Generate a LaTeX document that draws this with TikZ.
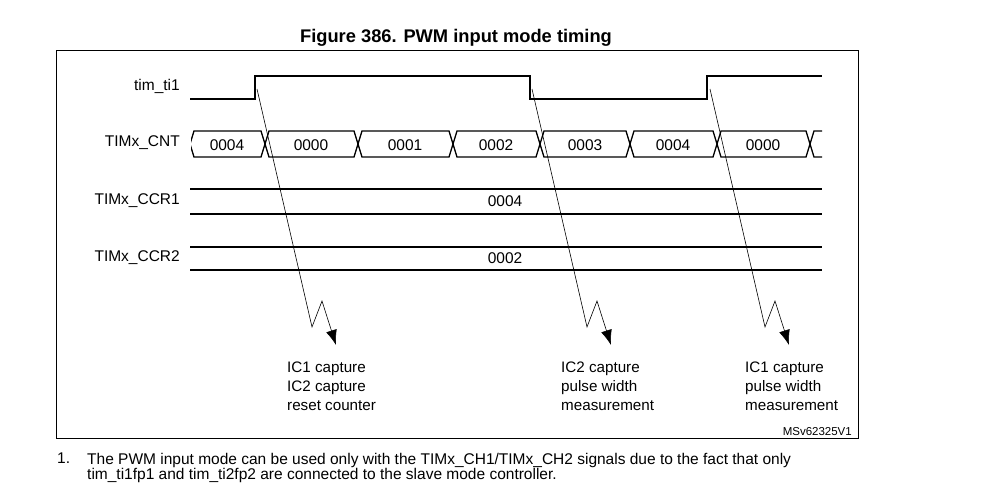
\documentclass[tikz,border=0pt]{standalone}
\usepackage{fontspec}
\usetikzlibrary{arrows.meta}
\setmainfont{Liberation Sans}
\begin{document}
\begin{tikzpicture}[x=1pt,y=-1pt,
  sig/.style={line width=1.3pt},
  lbl/.style={anchor=east,font=\fontsize{15.5}{18}\selectfont,inner sep=0},
  val/.style={font=\fontsize{15.5}{18}\selectfont,inner sep=0},
  note/.style={align=left,anchor=north west,font=\fontsize{15.2}{19}\selectfont,inner sep=0},
  evt/.style={line width=0.6pt},
  tip/.style={-{Latex[length=15pt,width=11pt]}}]
\useasboundingbox (0,0) rectangle (985,501);
\node[font=\bfseries\fontsize{18.3}{20}\selectfont] (title) at (456,38) {Figure 386. PWM input mode timing};
\draw[line width=0.6pt] (56,50) rectangle (858,438);
% labels
\node[lbl] (l1) at (180,86) {tim\_ti1};
\node[lbl] (l2) at (180,143) {TIMx\_CNT};
\node[lbl] (l3) at (180,201) {TIMx\_CCR1};
\node[lbl] (l4) at (180,258) {TIMx\_CCR2};
% tim_ti1
\draw[sig] (190,99) -- (255,99) -- (255,76) -- (530,76) -- (530,99) -- (707,99) -- (707,76) -- (822,76);
% CNT bus
\foreach \a/\b in {190/265,265/358,358/453,453/540,540/630,630/717,717/810}{
  \draw[sig] (\a+4,131) -- (\b-4,131) -- (\b,144) -- (\b-4,157) -- (\a+4,157) -- (\a,144) -- cycle;}
\draw[line width=1.6pt,white] (190,131) -- (190,157);
\draw[sig] (822,131) -- (814,131) -- (810,144) -- (814,157) -- (822,157);
\foreach \x/\t/\n in {227/0004/a,311/0000/b,405/0001/c,496/0002/d,585/0003/e,673/0004/f,763/0000/g}
  \node[val] (c\n) at (\x,145) {\t};
% CCR lines
\draw[sig] (190,189) -- (822,189) (190,214) -- (822,214);
\node[val] (v1) at (505,201) {0004};
\draw[sig] (190,247) -- (822,247) (190,270) -- (822,270);
\node[val] (v2) at (505,258) {0002};
% event arrows
\coordinate (e1) at (257,89); \coordinate (e2) at (532,89); \coordinate (e3) at (710,89);
\draw[evt,tip] (e1) -- (312,327) -- (322,301) -- (336,345);
\draw[evt,tip] (e2) -- (587,327) -- (597,301) -- (611,345);
\draw[evt,tip] (e3) -- (765,327) -- (775,301) -- (789,345);
\node[note] (n1) at (287,362) {IC1 capture\\IC2 capture\\reset counter};
\node[note] (n2) at (561,362) {IC2 capture\\pulse width\\measurement};
\node[note] (n3) at (745,362) {IC1 capture\\pulse width\\measurement};
\node[anchor=east,font=\fontsize{11.5}{12}\selectfont,inner sep=0] (ms) at (852,432) {MSv62325V1};
\node[anchor=north west,font=\fontsize{15.5}{15}\selectfont,inner sep=0] (fn) at (57,453) {1.};
\node[note,font=\fontsize{15.5}{15.5}\selectfont] (ft) at (87,453) {The PWM input mode can be used only with the TIMx\_CH1/TIMx\_CH2 signals due to the fact that only\\tim\_ti1fp1 and tim\_ti2fp2 are connected to the slave mode controller.};
\end{tikzpicture}
\end{document}
